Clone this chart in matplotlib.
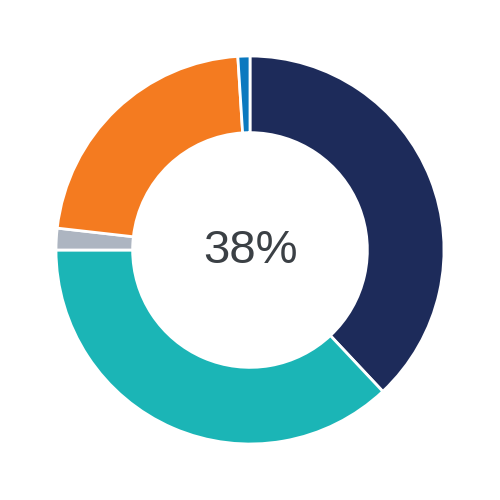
import matplotlib.pyplot as plt

labels = ['Navy', 'Teal', 'Grey', 'Orange', 'Blue']
values = [38.0, 37.0, 1.8, 22.2, 1.0]
colors = ['#1d2b5a', '#1bb5b6', '#adb5c1', '#f47b20', '#0b79bf']
center_text = '38%'

fig = plt.figure(figsize=(5, 5), dpi=100)
ax = fig.add_axes([0, 0, 1, 1])

ax.pie(values, colors=colors, startangle=90, counterclock=False,
       radius=1.0,
       wedgeprops=dict(width=0.395, edgecolor='white', linewidth=2))
ax.text(0, -0.005, center_text, ha='center', va='center', fontsize=34,
        color='#3b4045', family=['Liberation Sans', 'DejaVu Sans'])

lim = 250 / 194
ax.set_xlim(-lim, lim)
ax.set_ylim(-lim, lim)
ax.set_aspect('equal')
ax.axis('off')

plt.savefig('out.png', dpi=100, facecolor='white')
